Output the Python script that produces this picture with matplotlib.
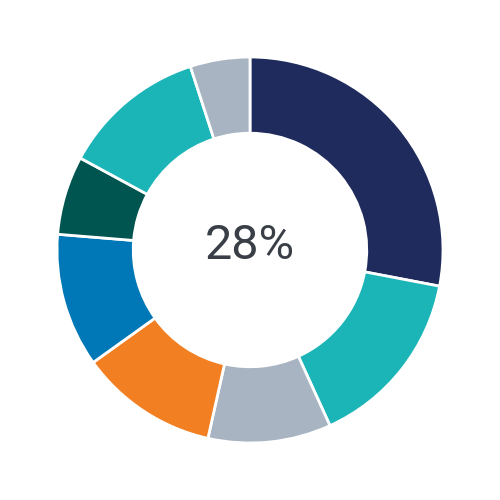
import matplotlib.pyplot as plt

# segment shares, clockwise from 12 o'clock
values = [28.0, 15.2, 10.3, 11.6, 11.2, 6.6, 12.1, 5.0]
colors = ['#1e2b5c', '#1bb5b7', '#a8b4c2', '#f28023',
          '#0077b6', '#005550', '#1bb5b7', '#a8b4c2']
center_label = '28%'

fig = plt.figure(figsize=(5, 5), dpi=100)
ax = fig.add_axes([0, 0, 1, 1])
ax.pie(values, colors=colors, startangle=90, counterclock=False,
       radius=1.0,
       wedgeprops=dict(width=0.395, edgecolor='white', linewidth=2.0))
ax.text(0, 0.02, center_label, ha='center', va='center', fontsize=35,
        color='#3a3f47', family='Roboto')
lim = 250 / 193
ax.set_xlim(-lim, lim)
ax.set_ylim(-lim, lim)
ax.set_aspect('equal')
ax.axis('off')
fig.savefig('out.png', dpi=100, facecolor='white')
